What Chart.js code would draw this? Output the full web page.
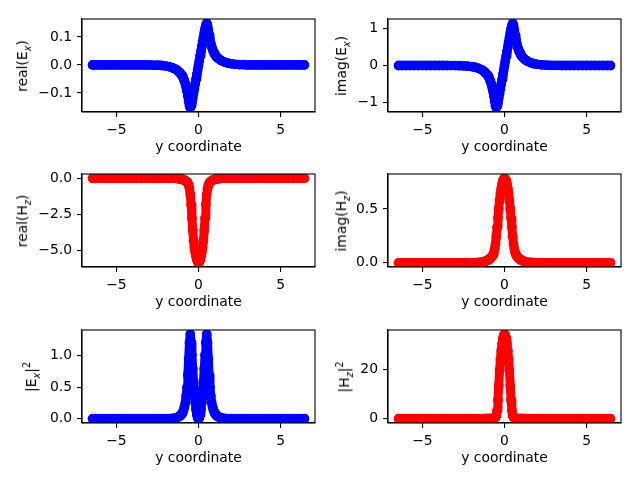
<!DOCTYPE html>
<html lang="en">
<head>
  <meta charset="UTF-8">
  <title>Mode fields along y</title>
  <script src="https://cdn.jsdelivr.net/npm/chart.js"></script>
  <style>
    html, body { margin: 0; padding: 0; background: #fff; }
    #fig { position: relative; width: 640px; height: 480px; overflow: hidden; font-family: "DejaVu Sans", sans-serif; }
    #fig canvas { position: absolute; }
    .ylab { position: absolute; font-size: 13.9px; line-height: 1; white-space: nowrap; color: #000;
            transform: translate(-50%, -50%) rotate(-90deg); }
    .ylab sub, .ylab sup { font-size: 70%; line-height: 0; }
  </style>
</head>
<body>
  <div id="fig"></div>

  <script>
    // sample positions (y coordinate)
    const yCoord = [
      -6.45, -6.25, -6, -5.75, -5.5, -5.25, -5, -4.75, -4.5, -4.25, -4, -3.75, -3.5, -3.25, -3, -2.75, -2.5, -2.25, -2, -1.8, -1.6, -1.4, -1.3,
      -1.2, -1.15, -1.1, -1.05, -1, -0.95, -0.9, -0.85, -0.8, -0.75, -0.7, -0.65, -0.6, -0.55, -0.5, -0.45, -0.4, -0.35, -0.3, -0.25, -0.2, -0.15, -0.1, -0.05, 0,
      0.05, 0.1, 0.15, 0.2, 0.25, 0.3, 0.35, 0.4, 0.45, 0.5, 0.55, 0.6, 0.65, 0.7, 0.75, 0.8, 0.85, 0.9, 0.95, 1, 1.05, 1.1, 1.15, 1.2,
      1.3, 1.4, 1.6, 1.8, 2, 2.25, 2.5, 2.75, 3, 3.25, 3.5, 3.75, 4, 4.25, 4.5, 4.75, 5, 5.25, 5.5, 5.75, 6, 6.25, 6.45
    ];

    const realEx = [
      0,0,0,0,0, 0,0,0,0,0, 0,0,0,0,0, -0.001,-0.001,-0.002,-0.004,-0.006,-0.010,-0.015,-0.019,
      -0.024,-0.027,-0.030,-0.034,-0.038,-0.044,-0.050,-0.058,-0.067,-0.080,-0.093,-0.110,-0.129,-0.145,-0.153,-0.145,-0.133,-0.118,-0.101,-0.084,-0.067,-0.050,-0.034,-0.017,0,
      0.016,0.033,0.049,0.066,0.082,0.098,0.115,0.130,0.142,0.149,0.142,0.125,0.107,0.091,0.077,0.066,0.057,0.049,0.043,0.037,0.033,0.029,0.026,0.023,
      0.019,0.015,0.010,0.006,0.004,0.002,0.001,0.001, 0,0,0,0,0, 0,0,0,0,0, 0,0,0,0,0
    ];

    const imagEx = [
      0,0,0,0,0, 0,0,0,0,0, 0,0,0, -0.001,-0.003,-0.006,-0.010,-0.018,-0.031,-0.048,-0.074,-0.115,-0.143,
      -0.177,-0.200,-0.223,-0.252,-0.286,-0.332,-0.378,-0.435,-0.504,-0.595,-0.698,-0.824,-0.962,-1.088,-1.145,-1.088,-0.996,-0.882,-0.756,-0.630,-0.504,-0.378,-0.252,-0.126,0,
      0.126,0.252,0.378,0.504,0.630,0.756,0.882,0.996,1.088,1.145,1.088,0.962,0.824,0.698,0.595,0.504,0.435,0.378,0.332,0.286,0.252,0.223,0.200,0.177,
      0.143,0.115,0.074,0.048,0.031,0.018,0.010,0.006,0.003,0.001, 0,0,0,0,0, 0,0,0,0,0, 0,0,0
    ];

    const realHz = [
      0,0,0,0,0, 0,0,0,0,0, 0,0,0,0,0, 0,0, -0.001,-0.002,-0.004,-0.008,-0.016,-0.023,
      -0.035,-0.043,-0.052,-0.064,-0.076,-0.093,-0.120,-0.145,-0.170,-0.210,-0.260,-0.350,-0.480,-0.730,-1.130,-1.800,-2.740,-3.580,-4.300,-4.780,-5.120,-5.380,-5.620,-5.760,-5.820,
      -5.760,-5.620,-5.380,-5.120,-4.780,-4.300,-3.580,-2.740,-1.800,-1.130,-0.730,-0.480,-0.350,-0.260,-0.210,-0.170,-0.145,-0.120,-0.093,-0.076,-0.064,-0.052,-0.043,-0.035,
      -0.023,-0.016,-0.008,-0.004,-0.002,-0.001, 0,0,0,0,0, 0,0,0,0,0, 0,0,0,0,0, 0,0
    ];

    const imagHz = [
      0,0,0,0,0, 0,0,0,0,0, 0,0,0,0,0, 0,0,0, 0.001,0.002,0.004,0.007,0.009,
      0.013,0.016,0.019,0.022,0.026,0.031,0.036,0.043,0.051,0.061,0.075,0.094,0.126,0.173,0.243,0.330,0.416,0.502,0.581,0.644,0.691,0.730,0.761,0.777,0.785,
      0.777,0.761,0.730,0.691,0.644,0.581,0.502,0.416,0.330,0.243,0.173,0.126,0.094,0.075,0.061,0.051,0.043,0.036,0.031,0.026,0.022,0.019,0.016,0.013,
      0.009,0.007,0.004,0.002,0.001, 0,0,0,0,0, 0,0,0,0,0, 0,0,0,0,0, 0,0,0
    ];

    const absEx2 = [
      0,0,0,0,0, 0,0,0,0,0, 0,0,0,0,0, 0,0,0, 0.001,0.002,0.006,0.013,0.021,
      0.032,0.041,0.051,0.065,0.084,0.113,0.146,0.193,0.259,0.362,0.499,0.695,0.946,1.209,1.340,1.209,1.014,0.794,0.584,0.405,0.259,0.146,0.065,0.016,0,
      0.016,0.065,0.146,0.259,0.405,0.584,0.794,1.014,1.209,1.340,1.209,0.946,0.695,0.499,0.362,0.259,0.193,0.146,0.113,0.084,0.065,0.051,0.041,0.032,
      0.021,0.013,0.006,0.002,0.001, 0,0,0,0,0, 0,0,0,0,0, 0,0,0,0,0, 0,0,0
    ];

    const absHz2 = [
      0,0,0,0,0, 0,0,0,0,0, 0,0,0,0,0, 0,0,0,0,0, 0,0,0,
      0.001,0.002,0.003,0.004,0.006,0.010,0.016,0.023,0.032,0.048,0.074,0.13,0.25,0.56,1.35,3.4,7.7,13.6,19.8,24.2,27.8,30.6,32.8,34.0,34.5,
      34.0,32.8,30.6,27.8,24.2,19.8,13.6,7.7,3.4,1.35,0.56,0.25,0.13,0.074,0.048,0.032,0.023,0.016,0.010,0.006,0.004,0.003,0.002,0.001,
      0,0,0,0,0, 0,0,0,0,0, 0,0,0,0,0, 0,0,0,0,0, 0,0,0
    ];

    // tick labels
    const xTicks = [-5, 0, 5];
    const realExTicks = [-0.1, 0, 0.1];
    const imagExTicks = [-1, 0, 1];
    const realHzTicks = [-5, -2.5, 0];
    const imagHzTicks = [0, 0.5];
    const absEx2Ticks = [0, 0.5, 1];
    const absHz2Ticks = [0, 20];

    const BLUE = '#0000ff', RED = '#ff0000';
    const AX_W = 233, AX_H = 93;
    const PAD_L = 70, PAD_T = 16, PAD_R = 16, PAD_B = 50;
    const FONT = { family: 'DejaVu Sans', size: 13.9 };

    const panels = [
      { ys: realEx, ticks: realExTicks, dec: 1, min: -0.168, max: 0.164, color: BLUE, left: 82,  top: 19,  lab: 'real(E<sub><i>x</i></sub>)', lx: 22.7 },
      { ys: imagEx, ticks: imagExTicks, dec: 0, min: -1.26,  max: 1.26,  color: BLUE, left: 388, top: 19,  lab: 'imag(E<sub><i>x</i></sub>)', lx: 341.5 },
      { ys: realHz, ticks: realHzTicks, dec: 1, min: -6.111, max: 0.291, color: RED,  left: 82,  top: 174, lab: 'real(H<sub><i>z</i></sub>)', lx: 22.7 },
      { ys: imagHz, ticks: imagHzTicks, dec: 1, min: -0.039, max: 0.824, color: RED,  left: 388, top: 174, lab: 'imag(H<sub><i>z</i></sub>)', lx: 341.5 },
      { ys: absEx2, ticks: absEx2Ticks, dec: 1, min: -0.067, max: 1.407, color: BLUE, left: 82,  top: 330, lab: '|E<sub><i>x</i></sub>|<sup>2</sup>', lx: 31.7 },
      { ys: absHz2, ticks: absHz2Ticks, dec: 0, min: -1.725, max: 36.225, color: RED, left: 388, top: 330, lab: '|H<sub><i>z</i></sub>|<sup>2</sup>', lx: 345 }
    ];

    // full box around each axes area
    const framePlugin = {
      id: 'frame',
      afterDatasetsDraw(chart) {
        const a = chart.chartArea, c = chart.ctx;
        c.save();
        c.strokeStyle = '#000';
        c.lineWidth = 1.1;
        c.strokeRect(a.left, a.top, a.right - a.left, a.bottom - a.top);
        c.restore();
      }
    };

    function fmt(dec) {
      return v => (v < 0 ? '\u2212' : '') + Math.abs(v).toFixed(dec);
    }

    const fig = document.getElementById('fig');

    panels.forEach(p => {
      const cv = document.createElement('canvas');
      cv.width = AX_W + PAD_L + PAD_R;
      cv.height = AX_H + PAD_T + PAD_B;
      cv.style.width = cv.width + 'px';
      cv.style.height = cv.height + 'px';
      cv.style.left = (p.left - PAD_L) + 'px';
      cv.style.top = (p.top - PAD_T) + 'px';
      fig.appendChild(cv);

      new Chart(cv, {
        type: 'scatter',
        data: {
          datasets: [{
            data: yCoord.map((x, i) => ({ x: x, y: p.ys[i] })),
            showLine: true,
            borderColor: p.color,
            borderWidth: 9,
            borderCapStyle: 'round',
            borderJoinStyle: 'round',
            backgroundColor: p.color,
            pointBackgroundColor: p.color,
            pointBorderColor: p.color,
            pointRadius: 4.3,
            pointBorderWidth: 1.2,
            pointHoverRadius: 4.3,
            clip: 0
          }]
        },
        options: {
          responsive: false,
          animation: false,
          events: [],
          layout: { padding: { top: PAD_T, right: PAD_R, left: 0, bottom: 0 } },
          plugins: { legend: { display: false }, tooltip: { enabled: false } },
          scales: {
            x: {
              type: 'linear',
              min: -7.095,
              max: 7.095,
              afterBuildTicks: s => { s.ticks = xTicks.map(v => ({ value: v })); },
              afterFit: s => { s.height = PAD_B; },
              grid: { drawOnChartArea: false, tickLength: 5, color: '#000', lineWidth: 1.1 },
              border: { color: '#000', width: 1.1 },
              ticks: { color: '#000', font: FONT, padding: 5, maxRotation: 0, callback: fmt(0) },
              title: { display: true, text: 'y coordinate', color: '#000', font: FONT, padding: { top: 0, bottom: 6 } }
            },
            y: {
              type: 'linear',
              min: p.min,
              max: p.max,
              afterBuildTicks: s => { s.ticks = p.ticks.map(v => ({ value: v })); },
              afterFit: s => { s.width = PAD_L; },
              grid: { drawOnChartArea: false, tickLength: 5, color: '#000', lineWidth: 1.1 },
              border: { color: '#000', width: 1.1 },
              ticks: { color: '#000', font: FONT, padding: 5, callback: fmt(p.dec) }
            }
          }
        },
        plugins: [framePlugin]
      });

      const lab = document.createElement('div');
      lab.className = 'ylab';
      lab.innerHTML = p.lab;
      lab.style.left = p.lx + 'px';
      lab.style.top = (p.top + AX_H / 2) + 'px';
      fig.appendChild(lab);
    });
  </script>
</body>
</html>
